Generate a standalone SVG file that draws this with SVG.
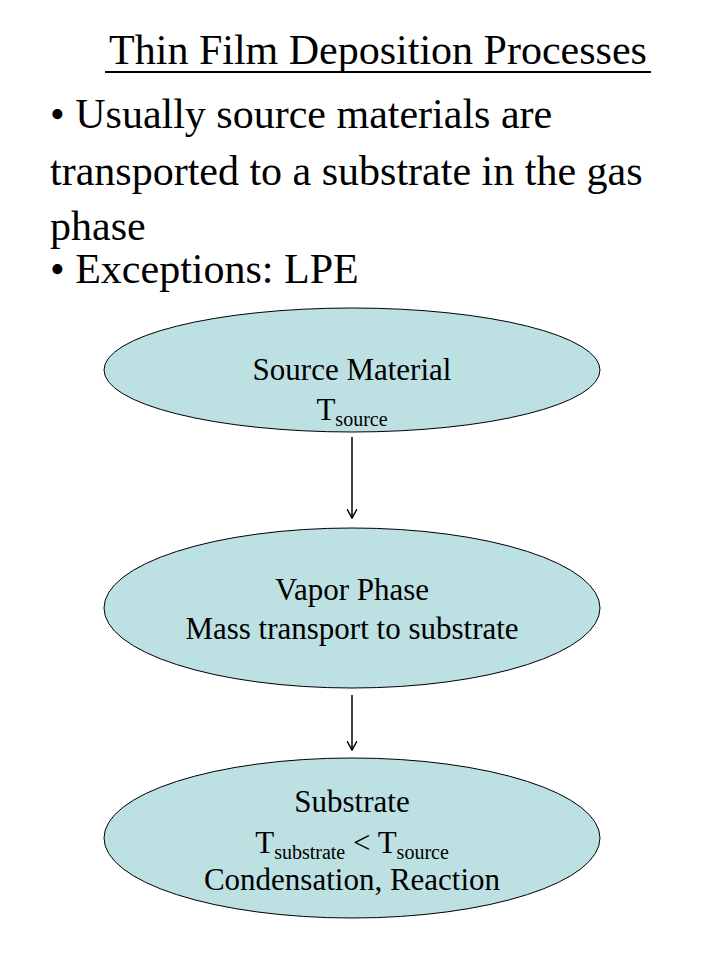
<svg xmlns="http://www.w3.org/2000/svg" width="720" height="960" viewBox="0 0 720 960">
<style>
text{font-family:"Liberation Serif","Times New Roman",serif;fill:#000}
.big{font-size:42px}
.n{font-size:31px;text-anchor:middle}
.s{font-size:20px}
.node{fill:#bde0e2;stroke:#000;stroke-width:1}
.c{stroke:#000;stroke-width:1.5;fill:none}
</style>
<defs><marker id="ah" markerWidth="10" markerHeight="10" refX="9" refY="5" orient="auto" markerUnits="userSpaceOnUse"><path d="M0,0 L9,5 L0,10" fill="none" stroke="#000" stroke-width="1.5"/></marker></defs>
<text x="378" y="64" style="font-size:42px;text-anchor:middle">Thin Film Deposition Processes</text>
<line x1="105" y1="72" x2="651" y2="72" stroke="#000" stroke-width="2"/>
<text class="big" x="50" y="128">• Usually source materials are</text>
<text class="big" x="50" y="185">transported to a substrate in the gas</text>
<text class="big" x="50" y="240">phase</text>
<text class="big" x="50" y="283">• Exceptions: LPE</text>
<g id="n1"><ellipse class="node" cx="352" cy="370" rx="248" ry="62"/>
<text class="n" x="352" y="380">Source Material</text>
<text class="n" x="352" y="420">T<tspan class="s" dy="6">source</tspan></text></g>
<g id="n2"><ellipse class="node" cx="352" cy="608" rx="248" ry="80"/>
<text class="n" x="352" y="600">Vapor Phase</text>
<text class="n" x="352" y="639">Mass transport to substrate</text></g>
<g id="n3"><ellipse class="node" cx="352" cy="838" rx="248" ry="80"/>
<text class="n" x="352" y="812">Substrate</text>
<text class="n" x="352" y="853">T<tspan class="s" dy="6">substrate</tspan><tspan dy="-6"> &lt; T</tspan><tspan class="s" dy="6">source</tspan></text>
<text class="n" x="352" y="890">Condensation, Reaction</text></g>
<g id="connectors">
<line class="c" x1="352" y1="437" x2="352" y2="518" marker-end="url(#ah)"/>
<line class="c" x1="352" y1="695" x2="352" y2="750" marker-end="url(#ah)"/>
</g>
</svg>
